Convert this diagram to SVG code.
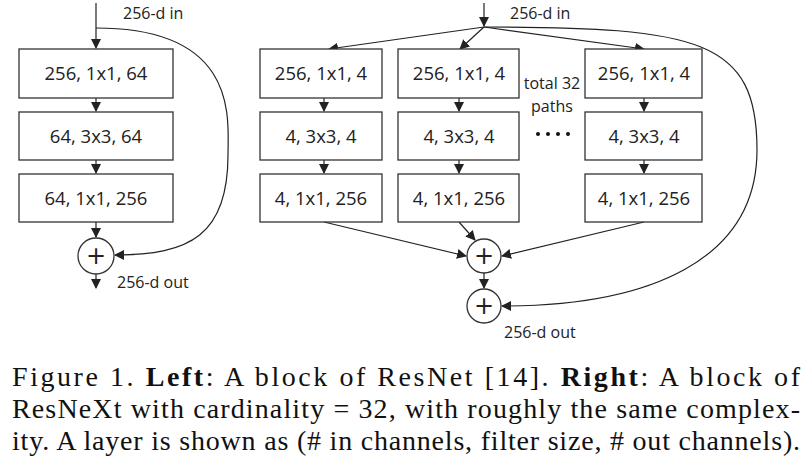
<svg xmlns="http://www.w3.org/2000/svg" width="810" height="474" viewBox="0 0 810 474">
<style>
.b{fill:#fff;stroke:#333;stroke-width:1.3}
.t{font-family:"Open Sans","DejaVu Sans",sans-serif;font-size:18.5px;fill:#222;text-anchor:middle}
.p{font-family:"DejaVu Sans",sans-serif;font-size:24px;fill:#222;text-anchor:middle}
.l{font-family:"Open Sans","DejaVu Sans",sans-serif;font-size:16px;fill:#222}
.c{fill:none;stroke:#222;stroke-width:1.2}
.cap{font-family:"Liberation Serif",serif;font-size:28px;fill:#111}
</style>
<defs><marker id="a" markerWidth="10" markerHeight="10" refX="9" refY="5" orient="auto" markerUnits="userSpaceOnUse"><path d="M0,0L10,5L0,10z" fill="#222"/></marker></defs>
<rect width="810" height="474" fill="#fff"/>
<g id="connectors">
<path class="c" d="M96,3V48" marker-end="url(#a)"/>
<path class="c" d="M96,98V111" marker-end="url(#a)"/>
<path class="c" d="M96,160V173" marker-end="url(#a)"/>
<path class="c" d="M96,222V237" marker-end="url(#a)"/>
<path class="c" d="M96,274V288" marker-end="url(#a)"/>
<path class="c" d="M96,28C240,28 228,120 228,155C228,235 190,255 115,255" marker-end="url(#a)"/>
<path class="c" d="M484,3V26" marker-end="url(#a)"/>
<path class="c" d="M484,27L329,49" marker-end="url(#a)"/>
<path class="c" d="M484,27L460,49" marker-end="url(#a)"/>
<path class="c" d="M484,27L644,49" marker-end="url(#a)"/>
<path class="c" d="M484,27C700,27 757,40 757,150C757,260 650,306 502,306" marker-end="url(#a)"/>
<path class="c" d="M324,98V111" marker-end="url(#a)"/><path class="c" d="M324,160V173" marker-end="url(#a)"/>
<path class="c" d="M459,98V111" marker-end="url(#a)"/><path class="c" d="M459,160V173" marker-end="url(#a)"/>
<path class="c" d="M644,98V111" marker-end="url(#a)"/><path class="c" d="M644,160V173" marker-end="url(#a)"/>
<path class="c" d="M324,222L466,256" marker-end="url(#a)"/>
<path class="c" d="M459,222L475,240" marker-end="url(#a)"/>
<path class="c" d="M644,222L502,256" marker-end="url(#a)"/>
<path class="c" d="M484,273V288" marker-end="url(#a)"/>
</g>
<g id="left">
<g id="l1"><rect class="b" x="19" y="49" width="154" height="49"/><text class="t" x="96" y="80">256, 1x1, 64</text></g>
<g id="l2"><rect class="b" x="19" y="112" width="154" height="48"/><text class="t" x="96" y="143">64, 3x3, 64</text></g>
<g id="l3"><rect class="b" x="19" y="174" width="154" height="48"/><text class="t" x="96" y="205">64, 1x1, 256</text></g>
<g id="lsum"><circle class="b" cx="96" cy="256" r="18"/><text class="p" x="96" y="264">+</text></g>
<text class="l" x="123" y="19">256-d in</text>
<text class="l" x="117" y="288">256-d out</text>
</g>
<g id="right">
<g id="r11"><rect class="b" x="260" y="49" width="122" height="49"/><text class="t" x="321" y="80">256, 1x1, 4</text></g>
<g id="r12"><rect class="b" x="260" y="112" width="122" height="48"/><text class="t" x="321" y="143">4, 3x3, 4</text></g>
<g id="r13"><rect class="b" x="260" y="174" width="122" height="48"/><text class="t" x="321" y="205">4, 1x1, 256</text></g>
<g id="r21"><rect class="b" x="398" y="49" width="121" height="49"/><text class="t" x="459" y="80">256, 1x1, 4</text></g>
<g id="r22"><rect class="b" x="398" y="112" width="121" height="48"/><text class="t" x="459" y="143">4, 3x3, 4</text></g>
<g id="r23"><rect class="b" x="398" y="174" width="121" height="48"/><text class="t" x="459" y="205">4, 1x1, 256</text></g>
<g id="r31"><rect class="b" x="585" y="49" width="117" height="49"/><text class="t" x="644" y="80">256, 1x1, 4</text></g>
<g id="r32"><rect class="b" x="585" y="112" width="117" height="48"/><text class="t" x="644" y="143">4, 3x3, 4</text></g>
<g id="r33"><rect class="b" x="585" y="174" width="117" height="48"/><text class="t" x="644" y="205">4, 1x1, 256</text></g>
<g id="rsum1"><circle class="b" cx="484" cy="256" r="17"/><text class="p" x="484" y="264">+</text></g>
<g id="rsum2"><circle class="b" cx="484" cy="306" r="17"/><text class="p" x="484" y="314">+</text></g>
<text class="l" x="510" y="19">256-d in</text>
<text class="l" x="552" y="89" text-anchor="middle">total 32</text>
<text class="l" x="552" y="112" text-anchor="middle">paths</text>
<g fill="#111"><circle cx="538" cy="134" r="2"/><circle cx="548" cy="134" r="2"/><circle cx="558" cy="134" r="2"/><circle cx="568" cy="134" r="2"/></g>
<text class="l" x="504" y="338">256-d out</text>
</g>
<g id="caption">
<text class="cap" x="12" y="386" textLength="788" lengthAdjust="spacing">Figure 1. <tspan font-weight="bold">Left</tspan>: A block of ResNet [14]. <tspan font-weight="bold">Right</tspan>: A block of</text>
<text class="cap" x="12" y="418" textLength="788" lengthAdjust="spacing">ResNeXt with cardinality = 32, with roughly the same complex-</text>
<text class="cap" x="12" y="450" textLength="788" lengthAdjust="spacing">ity. A layer is shown as (# in channels, filter size, # out channels).</text>
</g>
</svg>
